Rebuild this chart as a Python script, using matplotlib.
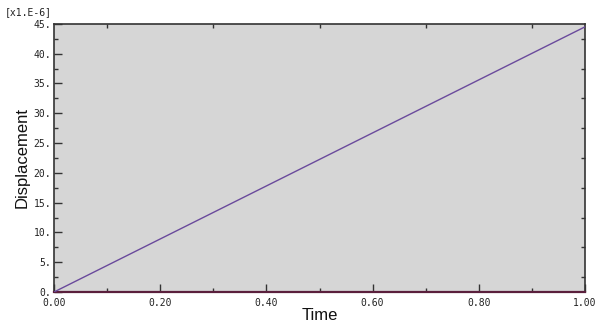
import matplotlib
matplotlib.use("Agg")
import matplotlib.pyplot as plt
from matplotlib.ticker import MultipleLocator, FuncFormatter

time = [0.0, 1.0]
displacement = [0.0, 44.5]
zero_series = [0.0, 0.0]
x_ticks = [0.0, 0.2, 0.4, 0.6, 0.8, 1.0]
y_ticks = [0, 5, 10, 15, 20, 25, 30, 35, 40, 45]

fig = plt.figure(figsize=(6, 3.27), dpi=100)
fig.patch.set_facecolor("white")
ax = fig.add_axes([0.09, 0.107, 0.885, 0.820])
ax.set_facecolor("#d6d6d6")

ax.plot(time, zero_series, color="#5a1f3c", lw=1.6, zorder=3, clip_on=False)
ax.plot(time, displacement, color="#6a4a9c", lw=1.0, zorder=4)

ax.set_xlim(0, 1.0)
ax.set_ylim(0, 45)
ax.set_xticks(x_ticks)
ax.set_yticks(y_ticks)
ax.xaxis.set_minor_locator(MultipleLocator(0.1))
ax.yaxis.set_minor_locator(MultipleLocator(2.5))
ax.xaxis.set_major_formatter(FuncFormatter(lambda v, p: f"{v:.2f}"))
ax.yaxis.set_major_formatter(FuncFormatter(lambda v, p: f"{int(round(v))}."))

tickfont = "DejaVu Sans Mono"
for lab in ax.get_xticklabels() + ax.get_yticklabels():
    lab.set_fontfamily(tickfont)
    lab.set_fontsize(7)
    lab.set_color("#222222")

ax.tick_params(axis="both", which="major", direction="in", length=6, width=1.0,
               color="#333333", pad=2, top=False, right=False)
ax.tick_params(axis="x", which="major", pad=4)
ax.tick_params(axis="both", which="minor", direction="in", length=3, width=1.0,
               color="#333333", top=True, right=True)

for s in ax.spines.values():
    s.set_color("#333333")
    s.set_linewidth(1.2)

ax.set_xlabel("Time", fontsize=12, fontfamily="Liberation Sans", labelpad=0, color="#111111")
ax.set_ylabel("Displacement", fontsize=12, fontfamily="Liberation Sans", labelpad=3, color="#111111")

fig.text(0.008, 0.962, "[x1.E-6]", fontsize=7, fontfamily=tickfont, color="#222222",
         ha="left", va="center")

fig.savefig("out.png", dpi=100, facecolor="white")
